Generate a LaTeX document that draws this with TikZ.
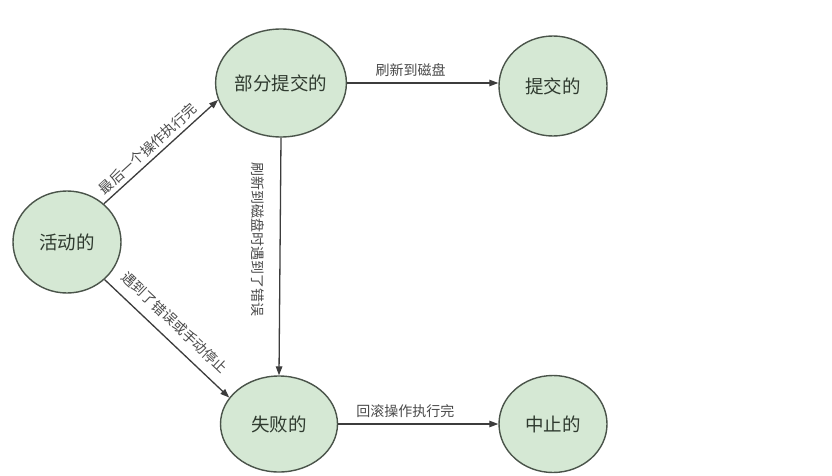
\documentclass[tikz,border=0pt]{standalone}
\usepackage{fontspec}
\setmainfont{Noto Sans CJK SC}
\usetikzlibrary{arrows.meta,shapes.geometric,calc}
\definecolor{fillg}{HTML}{D5E8D4}
\definecolor{strokeg}{HTML}{4A544A}
\definecolor{txt}{HTML}{2F3A2F}
\definecolor{lbl}{HTML}{4A4A4A}
\definecolor{edge}{HTML}{3C3C3C}
\begin{document}
\begin{tikzpicture}[x=1pt,y=-1pt,
  state/.style={ellipse, draw=strokeg, line width=1.4pt, fill=fillg, inner sep=0pt,
    text=txt, font=\fontsize{18.5}{20}\selectfont},
  conn/.style={draw=edge, line width=1.3pt, -{Triangle[length=9pt,width=6.5pt]}},
  lab/.style={font=\fontsize{14}{15}\selectfont, text=lbl, inner sep=2pt}]
\useasboundingbox (0,0) rectangle (832,476);
\fill[white] (0,0) rectangle (832,476);
\node[state, minimum width=108pt, minimum height=102pt] (act) at (67,242) {活动的};
\node[state, minimum width=117pt, minimum height=108pt] (part) at (281,83) {部分提交的};
\node[state, minimum width=108pt, minimum height=100pt] (comm) at (553,86) {提交的};
\node[state, minimum width=117pt, minimum height=96pt] (fail) at (279,424) {失败的};
\node[state, minimum width=108pt, minimum height=97pt] (abrt) at (553,424) {中止的};

\draw[conn] (act.46) -- node[lab, sloped, above=2pt, pos=0.45] {最后一个操作执行完} (part.195);
\draw[conn] (act.-45) -- node[lab, sloped, above=8pt, pos=0.47] {遇到了错误或手动停止} (fail.152);
\draw[conn] (part.east) -- node[lab, above=4pt, pos=0.42] {刷新到磁盘} (part.east -| comm.west);
\draw[conn] (part.south) -- (fail.north);
\path ($(part.south)!0.43!(fail.north)$) ++(-22,0) node[lab, rotate=-90] (vlab) {刷新到磁盘时遇到了错误};
\draw[conn] (fail.east) -- node[lab, above=4pt, pos=0.42] {回滚操作执行完} (fail.east -| abrt.west);
\end{tikzpicture}
\end{document}
